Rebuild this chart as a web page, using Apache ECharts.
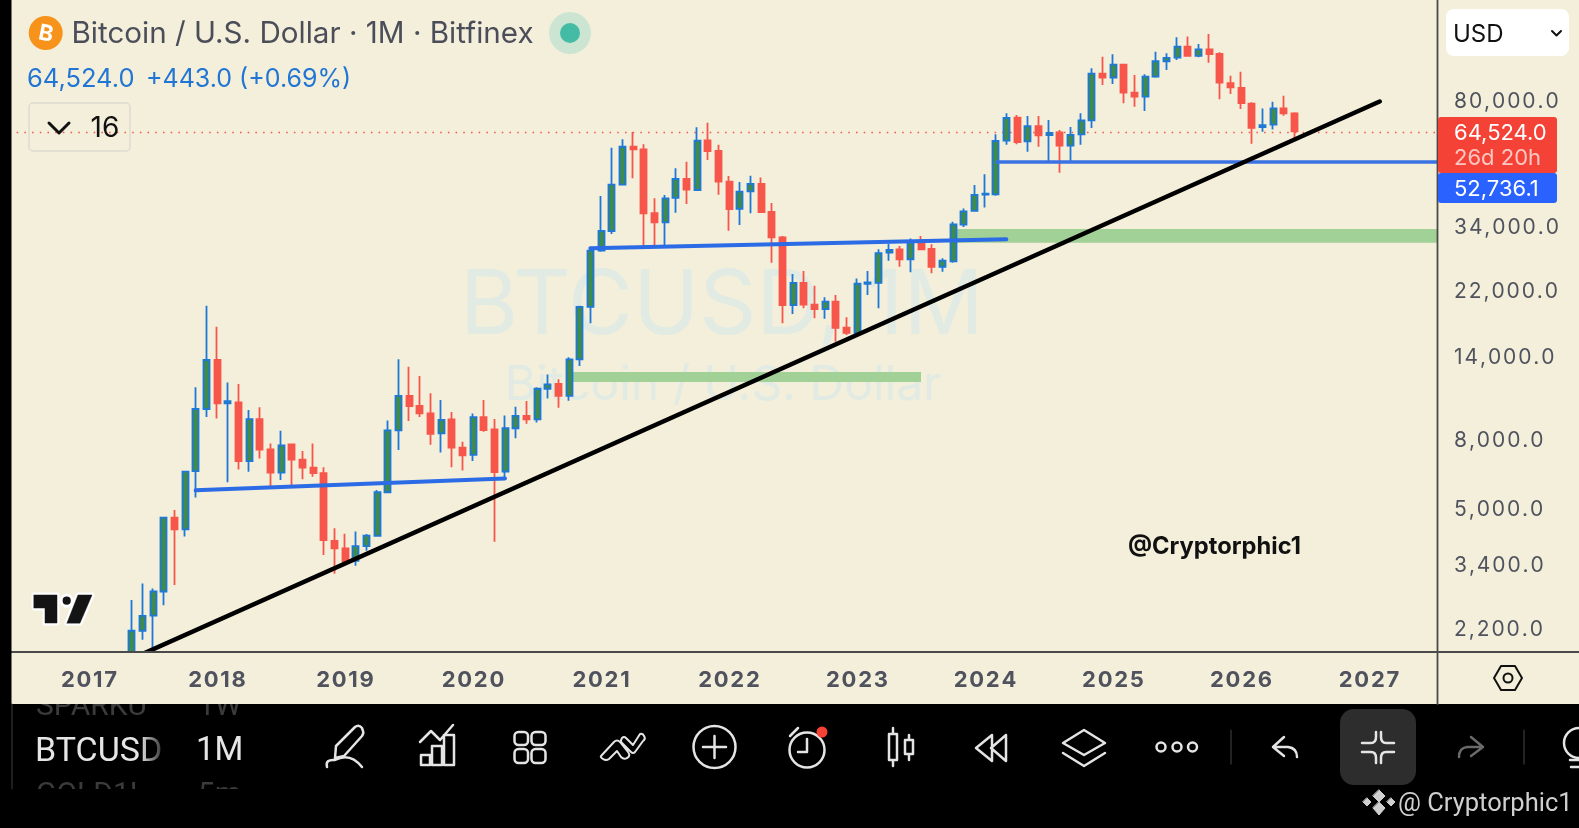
<!DOCTYPE html>
<html><head><meta charset="utf-8">
<style>html,body{margin:0;padding:0;background:#000}#c{width:1579px;height:828px}</style>
<script src="https://cdn.jsdelivr.net/npm/echarts@6/dist/echarts.min.js"></script>
</head><body><div id="c"></div>
<script>
// ---- values ----
const yTickValues = [80000,34000,22000,14000,8000,5000,3400,2200];
const firstCandleMonth = '2017-05';
const opens = [1450,2160,2395,2820,4660,4305,6400,9760,13620,10150,10200,6850,9110,7410,6330,7670,6920,6550,6310,3980,3780,3475,3840,4120,5540,8440,10670,9960,9475,8270,9100,7500,7140,9240,8500,6380,8560,9310,9100,11200,11570,10670,13680,19560,28640,32750,44870,58080,57050,36950,34730,41050,46640,43280,60700,56430,45800,38100,42900,45100,37270,31380,19780,23000,19850,19260,20270,16960,16370,22880,23000,28260,28900,27020,30270,28980,25680,26650,34200,37530,41950,42000,60530,70800,60280,66770,62830,64000,58500,63200,69520,95480,92900,101500,83900,81650,93550,103900,106450,114700,107700,112700,109170,89500,86700,77850,66440,67500,75400,72900];
const closes = [2160,2390,2820,4660,4305,6375,9760,13620,10150,10300,6850,9110,7410,6330,7620,6920,6550,6310,4000,3780,3460,3840,4125,5540,8440,10670,9960,9475,8235,9060,7500,7120,9240,8460,6350,8560,9310,9100,11200,11545,10670,13680,19560,28640,32750,44870,58080,57050,36950,34730,40900,46640,43370,60530,56430,45800,38030,42800,45100,37270,31380,19780,23000,19850,19260,20250,16960,16370,22880,23100,28150,28780,27020,30270,28900,25680,26770,34270,37420,41870,42200,60400,70640,59950,66770,62750,63830,58500,62970,69520,95480,92900,101500,83900,81650,93550,103900,106250,114700,107700,112700,109170,89800,87040,78100,66000,67300,75400,72900,64524];
const lows = [1400,2030,1770,2570,2950,4100,5350,9250,9150,5925,6470,6370,6970,5730,6020,5780,6050,6160,3615,3180,3385,3360,3720,4100,5520,7380,9000,9250,7650,7260,6570,6420,6850,8360,3955,6020,8000,8830,8900,10490,9850,10330,13080,17480,28450,32090,44680,46860,29300,29100,29570,37100,39360,43000,53080,41900,32820,34110,36950,37270,26410,17480,18620,19350,18090,18030,15420,16150,16340,21200,19350,26770,25680,24730,28780,24570,24840,26410,33630,37350,38400,41650,58900,59050,56170,58080,52270,48690,52270,58900,66000,88400,89000,78100,76250,74100,92900,97900,104800,107200,106750,102900,80200,83160,75100,59300,64350,65300,71700,60820];
const highs = [2660,2980,2880,4690,4910,6400,11310,19690,17070,11680,11570,9690,9870,7720,8420,7670,7330,7720,6570,4340,4175,4240,4170,5630,9020,13680,13010,12210,10860,10380,9560,7810,9470,10380,9120,9340,9910,10300,11310,12350,11950,13870,19690,28910,41550,57720,61100,64220,59050,40900,41870,50150,52480,66300,68400,58900,47610,45700,47700,47150,39630,31660,24450,24950,22580,20860,21200,18200,23700,24950,28910,30050,29570,31130,31660,29950,27200,34890,38190,44800,48150,63230,72900,72110,71630,71630,69680,65100,66400,72900,99050,107200,108950,102000,94650,95100,110900,109700,122300,123000,116900,125100,110400,94200,96800,78600,75400,78900,82200,73400];
const priceLineLevel = 64090;
const supportLevel = 52380;
const trendLine = [['2017-06',1843],['2027-02',79000]];
const blueLine1 = [['2017-11',5613],['2020-04',6088]];
const blueLine2 = [['2020-12',29110],['2024-03',30950]];
const blueLine3 = [['2024-02',supportLevel],['2027-08',supportLevel]];
const greenZone1 = {from:'2020-10',to:'2023-07',top:12555,bottom:11730};
const greenZone2 = {from:'2023-10',to:'2027-08',top:33200,bottom:30240};

// ---- month categories ----
const months = [];
for (let y=2016,m=6;;){ months.push(y+'-'+String(m).padStart(2,'0')); if(y===2027&&m===8)break; m++; if(m>12){m=1;y++;} }
const start = months.indexOf(firstCandleMonth);
const candleData = months.map((_,i)=>{const k=i-start; return (k>=0&&k<opens.length)?[opens[k],closes[k],lows[k],highs[k]]:'-';});

// ---- page chrome ----
const STROKE='#e4e4e4';
const spaced=(s,sp)=>s.split('').join(sp);
let shapeId=0;
function P(d,z,stroke,w,fill){const name='icon'+(shapeId++);echarts.graphic.registerShape(name,echarts.graphic.extendPath(d,{}));
 return {type:name,z:z||30,style:{fill:fill||'none',stroke:stroke||STROKE,lineWidth:w||2.5,lineCap:'round',lineJoin:'round'},silent:true};}
function R(x,y,w,h,fill,z,r,stroke,lw){return {type:'rect',z:z,shape:{x,y,width:w,height:h,r:r||0},style:{fill,stroke:stroke||null,lineWidth:stroke?(lw||1.5):0},silent:true};}
function T(text,x,y,font,fill,z,align){return {type:'text',z:z||30,x,y:y+1.5,style:{text,font,fill,textAlign:align||'left',textVerticalAlign:'middle'},silent:true};}
function C(cx,cy,r,fill,z,stroke,w){return {type:'circle',z:z||30,shape:{cx,cy,r},style:{fill:fill||'none',stroke:stroke||null,lineWidth:w||0},silent:true};}
const IF='Inter, "Noto Sans", sans-serif';
const HAIR='\u200a';
const els=[
 // watermark (behind the candles)
 T('BTCUSD, 1M',722,306,'89px '+IF,'#e1ebe3',1,'center'),
 T('Bitcoin / U.S. Dollar',723,384,'48px '+IF,'#e1ebe3',1,'center'),
 // cover right of price line
 R(1438,0,12,704,'#f3efdb',20),
 P('M1437.5 0 L1437.5 704',40,'#4a4a4a',1.8),
 // bottom black area
 R(0,704,1579,124,'#000',21),
 R(0,0,11.5,828,'#000',42),
 P('M12 704 L12 789',43,'#3c3c3c',1),
 T('SPARKU',36,706,'30px Roboto','#3b3b3b',22),
 T('1W',198,706,'30px Roboto','#3b3b3b',22),
 T('GOLD1!',36,794,'30px Roboto','#3b3b3b',22),
 T('5m',198,794,'30px Roboto','#3b3b3b',22),
 R(0,789,1300,39,'#000',23),
 R(13,653,1424,51,'#f3efdb',24), R(1438,653,141,51,'#f3efdb',24),
 P('M11 652 L1579 652',40,'#4a4a4a',2),
 // header
 C(45.7,33,17,'#f7931a',30),
 {type:'text',z:31,x:46,y:34,rotation:-0.2,style:{text:'B',font:'bold 22px '+IF,fill:'#fff',textAlign:'center',textVerticalAlign:'middle'},silent:true},
 T('Bitcoin / U.S. Dollar · 1M · Bitfinex',71.5,33,'29.6px '+IF,'#4b4e58'),
 C(570,33,21,'#cbe5d2',30),C(570,33,10,'#44bba4',31),
 T('64,524.0',27,78,'25.5px '+IF,'#2175d4'),
 T('+443.0 (+0.69%)',146,78,'25px '+IF,'#2175d4'),
 R(29,103,101,48,'none',30,4,'#dcdcd0'),
 P('M49 123 L59 133 L69 123',31,'#111',3),
 T('16',90.5,127,'28px '+IF,'#111'),
 // TradingView logo
 P('M34 595 L57 595 L57 623 L45 623 L45 608 L34 608 Z M67 623 L78 595 L92 595 L80 623 Z',30,'#fff',5,'#141414'),
 C(66.7,600.7,5.6,'#141414',31,'#fff',3),
 P('M34 595 L57 595 L57 623 L45 623 L45 608 L34 608 Z M67 623 L78 595 L92 595 L80 623 Z',32,'#141414',0.5,'#141414'),
 T('@Cryptorphic1',1128,545,'bold 23.7px '+IF,'#111'),
 // right column
 R(1446,9,123,47,'#fff',30,8),
 T('USD',1453,33,'24px '+IF,'#111',31),
 P('M1552 31 L1556.5 35.5 L1561 31',31,'#111',2),
 R(1438,117,119,56,'#f44336',44,3),
 T('64,524.0',1454,132,'22px '+IF,'#fff',45),
 T('26d 20h',1454,157,'22px '+IF,'#fbc7c2',45),
 R(1438,173,119,30,'#2962ff',44,3),
 T('52,736.1',1454,187.5,'22px '+IF,'#fff',45),
 P('M1494 678 L1501 666 L1515 666 L1522 678 L1515 690 L1501 690 Z',40,'#111',2),
 C(1508,678,4.5,'none',40,'#111',2),
 // toolbar
 T('BTCUSD',35,750.5,'34px Roboto','#e6e6e6'),
 {type:'rect',z:31,shape:{x:140,y:725,width:26,height:45},style:{fill:{type:'linear',x:0,y:0,x2:1,y2:0,colorStops:[{offset:0,color:'rgba(0,0,0,0)'},{offset:1,color:'rgba(0,0,0,0.9)'}]}},silent:true},
 T('1M',196,750.5,'33px Roboto','#e6e6e6'),
 P('M336 746 L355 727 Q359 724 362 728 L363 731 Q364 733 362 736 L344 756 L335 758 Z M327 767 Q325 759 335 760 Q350 752 362 767'),
 P('M421 755 H430 V765 H421 Z M432 746 H442 V765 H432 Z M444 735 H454 V765 H444 Z M420 742 L431 731 L440 740 L453 725'),
 R(514.5,732,13.5,13,'none',30,4,STROKE,2.5),R(531.5,732,14,13,'none',30,4,STROKE,2.5),R(514.5,749,13.5,14,'none',30,4,STROKE,2.5),R(531.5,749,14,14,'none',30,4,STROKE,2.5),
 P('M601 756 L614 742 Q617 739 620 742 L628 752 Q631 756 627 758 Q624 760 621 757 L617 751 L609 759 Q606 761 603 759 Q600 757 601 756 Z M626 738 L633 745 L640 734 Q643 733 644 736 Q646 739 643 741 L635 752 Q633 754 631 752 L622 743 Q620 741 622 738 Q624 736 626 738 Z',30,STROKE,2),
 C(714.5,747,21,'none',30,STROKE,2.5),P('M703 747 H726 M714.5 736 V758'),
 C(807,750,17.5,'none',30,STROKE,2.5),P('M807 739 V752 H798 M790 736 L798 728'),C(822,732,5.5,'#f44336',31),
 P('M893 728 V734 M893 760 V766 M889 734 H897 V760 H889 Z M909 735 V740 M909 754 V760 M905 740 H913 V754 H905 Z'),
 P('M992 735 L976 748 L992 761 Z M1006 735 L991 748 L1006 761 Z'),
 P('M1084 730 L1105 743 L1084 755 L1063 743 Z M1063 753 L1084 766 L1105 753'),
 C(1161,747,4.5,'none',30,STROKE,2.5),C(1177,747,4.5,'none',30,STROKE,2.5),C(1192.5,747,4.5,'none',30,STROKE,2.5),
 P('M1231 730 V764 M1524 730 V764',30,'#3a3a3a',1.2),
 P('M1284 737 L1273 747 L1284 756 M1273 747 L1288 747 Q1297 748 1297 757'),
 R(1340,709,76,76,'#2d2d2d',30,14),
 P('M1362 743 H1371 Q1376 743 1376 737 V732 M1362 752 H1371 Q1376 752 1376 758 V763 M1394 743 H1386 Q1381 743 1381 737 V732 M1394 752 H1386 Q1381 752 1381 758 V763',31),
 P('M1471 737 L1483 747 L1471 756 M1483 747 L1467 747 Q1459 748 1459 757',30,'#6a6a6a'),
 C(1579,743,15,'none',30,STROKE,2.5),P('M1570 760 H1579 M1571 767 H1579'),
 // bottom-right credit
 P('M1379 790 L1385 796 L1379 802 L1373 796 Z M1379 802 L1385 808 L1379 815 L1373 808 Z M1367 798 L1371 802 L1367 806 L1363 802 Z M1391 798 L1395 802 L1391 806 L1387 802 Z',30,'#cfcfcf',1,'#cfcfcf'),
 T('@ Cryptorphic1',1398,803,'25.5px Roboto','#cfcfcf'),
];

const chart=echarts.init(document.getElementById('c'),null,{renderer:'canvas'});
chart.setOption({
 animation:false,
 backgroundColor:'#f3efdb',
 grid:{left:9,top:0,width:1440,height:652,containLabel:false},
 xAxis:{type:'category',data:months,z:60,boundaryGap:true,
   axisLine:{show:false},axisTick:{show:false},splitLine:{show:false},
   axisLabel:{margin:17.5,interval:(i,v)=>v.endsWith('-01'),formatter:v=>spaced(v.slice(0,4),HAIR),
     color:'#50535e',fontFamily:'Inter',fontWeight:700,fontSize:22,hideOverlap:false}},
 yAxis:{type:'log',position:'right',min:1869,max:157600,logBase:10,z:60,
   axisLine:{show:false},axisTick:{show:false},splitLine:{show:false},minorTick:{show:false},
   axisLabel:{customValues:yTickValues,margin:5,align:'left',
     formatter:v=>'{a|'+spaced(Math.round(v).toLocaleString('en-US')+'.0',HAIR)+'}',
     rich:{a:{color:'#50535e',fontFamily:'Inter',fontSize:21,padding:[4,0,0,0]}}}},
 graphic:{elements:els},
 series:[
  {type:'candlestick',name:'BTCUSD',data:candleData,barWidth:6.5,z:5,
   itemStyle:{color:'#3f8b49',color0:'#f7564a',borderColor:'#1e78d8',borderColor0:'#f7564a',borderWidth:1.8},
   markArea:{silent:true,z:1,itemStyle:{color:'#a2d198'},
     data:[[{coord:[greenZone1.from,greenZone1.top]},{coord:[greenZone1.to,greenZone1.bottom]}],
           [{coord:[greenZone2.from,greenZone2.top]},{coord:[greenZone2.to,greenZone2.bottom]}]]},
   markLine:{silent:true,symbol:'none',label:{show:false},lineStyle:{color:'#f44336',width:1.3,type:[1.5,6.2],opacity:.9},data:[{yAxis:priceLineLevel}]}},
  {type:'line',name:'blue1',data:blueLine1,symbol:'none',z:6,lineStyle:{color:'#2b6be6',width:4,cap:'round'}},
  {type:'line',name:'blue2',data:blueLine2,symbol:'none',z:6,lineStyle:{color:'#2b6be6',width:4,cap:'round'}},
  {type:'line',name:'blue3',data:blueLine3,symbol:'none',z:6,lineStyle:{color:'#3a72e4',width:3.5}},
  {type:'line',name:'trend',data:trendLine,symbol:'none',z:7,lineStyle:{color:'#000',width:4.5,cap:'round'}},
 ]
});
</script></body></html>
